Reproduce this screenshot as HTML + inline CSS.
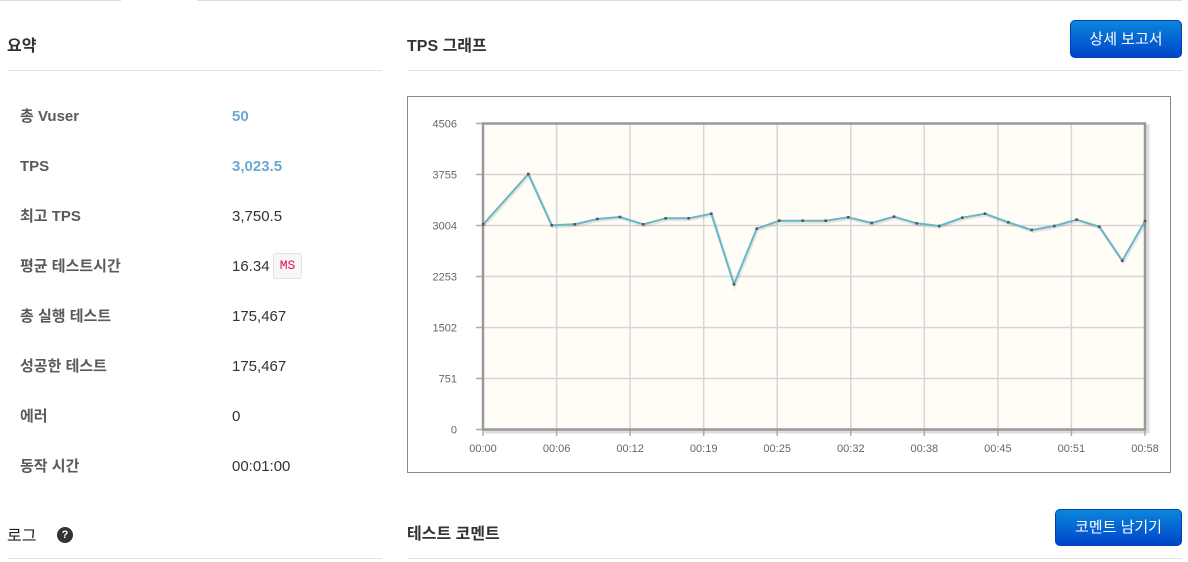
<!DOCTYPE html>
<html><head><meta charset="utf-8">
<style>
*{margin:0;padding:0;box-sizing:border-box}
html,body{width:1188px;height:562px;overflow:hidden;background:#fff;font-family:"Liberation Sans","Noto Sans CJK KR",sans-serif;}
.a{position:absolute;white-space:nowrap}
.h{font-size:16px;font-weight:bold;color:#333;line-height:20px}
.rule{position:absolute;height:1px;background:#e3e3e3}
.lbl{position:absolute;left:20px;font-size:15px;font-weight:bold;color:#5a5a5a;line-height:20px}
.val{position:absolute;left:232px;font-size:15px;color:#333;line-height:20px}
.blue{color:#6aaad2;font-weight:bold}
.btn{position:absolute;border-radius:5px;background:linear-gradient(#0a86dc,#0045c9);border:1px solid #0040b0;color:#fff;font-size:15px;text-align:center;}
.ms{position:absolute;left:273px;top:253px;width:29px;height:26px;border:1px solid #e1e1e8;background:#f7f7f9;border-radius:3px;color:#dd1144;font-family:"Liberation Mono",monospace;font-size:13px;line-height:24px;text-align:center}
</style></head><body>
<div class="rule" style="left:0;top:0;width:121px;background:#ddd"></div>
<div class="rule" style="left:197px;top:0;width:985px;background:#ddd"></div>

<div class="a h" style="left:7px;top:37px">요약</div>
<div class="rule" style="left:7px;top:70px;width:375px"></div>
<div class="a h" style="left:407px;top:37px">TPS 그래프</div>
<div class="rule" style="left:407px;top:70px;width:775px"></div>
<div class="btn" style="left:1070px;top:20px;width:112px;height:38px;line-height:37px">상세 보고서</div>

<div class="lbl" style="top:107px">총 Vuser</div><div class="val blue" style="top:107px">50</div>
<div class="lbl" style="top:157px">TPS</div><div class="val blue" style="top:157px">3,023.5</div>
<div class="lbl" style="top:207px">최고 TPS</div><div class="val" style="top:207px">3,750.5</div>
<div class="lbl" style="top:257px">평균 테스트시간</div><div class="val" style="top:257px">16.34</div><div class="ms">MS</div>
<div class="lbl" style="top:307px">총 실행 테스트</div><div class="val" style="top:307px">175,467</div>
<div class="lbl" style="top:357px">성공한 테스트</div><div class="val" style="top:357px">175,467</div>
<div class="lbl" style="top:407px">에러</div><div class="val" style="top:407px">0</div>
<div class="lbl" style="top:457px">동작 시간</div><div class="val" style="top:457px">00:01:00</div>

<div class="a h" style="left:7px;top:527px;font-weight:normal;color:#222">로그</div>
<div class="a" style="left:57px;top:527px;width:16px;height:16px;border-radius:50%;background:#333;color:#fff;font-size:11px;font-weight:bold;line-height:16px;text-align:center">?</div>
<div class="rule" style="left:7px;top:558px;width:375px"></div>
<div class="a h" style="left:407px;top:525px">테스트 코멘트</div>
<div class="rule" style="left:407px;top:558px;width:775px"></div>
<div class="btn" style="left:1055px;top:509px;width:127px;height:37px;line-height:36px">코멘트 남기기</div>

<svg class="a" style="left:0;top:0" width="1188" height="562" xmlns="http://www.w3.org/2000/svg">
<rect x="407.5" y="96.5" width="763" height="376" fill="#fff" stroke="#8a8a8a" stroke-width="1"/>
<rect x="486" y="126" width="662" height="306" fill="none" stroke="#ddd" stroke-width="3"/>
<rect x="483" y="123.5" width="662" height="306" fill="#fffdf6"/>
<g stroke="#d6d6d6" stroke-width="1.5">
<line x1="483" x2="1145" y1="174.5" y2="174.5"/>
<line x1="483" x2="1145" y1="225.5" y2="225.5"/>
<line x1="483" x2="1145" y1="276.5" y2="276.5"/>
<line x1="483" x2="1145" y1="327.5" y2="327.5"/>
<line x1="483" x2="1145" y1="378.5" y2="378.5"/>
<line y1="123.5" y2="429.5" x1="556.6" x2="556.6"/>
<line y1="123.5" y2="429.5" x1="630.1" x2="630.1"/>
<line y1="123.5" y2="429.5" x1="703.7" x2="703.7"/>
<line y1="123.5" y2="429.5" x1="777.2" x2="777.2"/>
<line y1="123.5" y2="429.5" x1="850.8" x2="850.8"/>
<line y1="123.5" y2="429.5" x1="924.3" x2="924.3"/>
<line y1="123.5" y2="429.5" x1="997.9" x2="997.9"/>
<line y1="123.5" y2="429.5" x1="1071.4" x2="1071.4"/>
</g>
<g stroke="#aaa" stroke-width="1.5">
<line x1="476" x2="483" y1="123.5" y2="123.5"/>
<line x1="476" x2="483" y1="174.5" y2="174.5"/>
<line x1="476" x2="483" y1="225.5" y2="225.5"/>
<line x1="476" x2="483" y1="276.5" y2="276.5"/>
<line x1="476" x2="483" y1="327.5" y2="327.5"/>
<line x1="476" x2="483" y1="378.5" y2="378.5"/>
<line x1="476" x2="483" y1="429.5" y2="429.5"/>
<line y1="429.5" y2="436" x1="483" x2="483"/>
<line y1="429.5" y2="436" x1="556.6" x2="556.6"/>
<line y1="429.5" y2="436" x1="630.1" x2="630.1"/>
<line y1="429.5" y2="436" x1="703.7" x2="703.7"/>
<line y1="429.5" y2="436" x1="777.2" x2="777.2"/>
<line y1="429.5" y2="436" x1="850.8" x2="850.8"/>
<line y1="429.5" y2="436" x1="924.3" x2="924.3"/>
<line y1="429.5" y2="436" x1="997.9" x2="997.9"/>
<line y1="429.5" y2="436" x1="1071.4" x2="1071.4"/>
<line y1="429.5" y2="436" x1="1145" x2="1145"/>
</g>
<rect x="483" y="123.5" width="662" height="306" fill="none" stroke="#999" stroke-width="2.5"/>
<g font-family="Liberation Sans, sans-serif" font-size="11" fill="#666" text-anchor="end">
<text x="457" y="127.5">4506</text>
<text x="457" y="178.5">3755</text>
<text x="457" y="229.5">3004</text>
<text x="457" y="280.5">2253</text>
<text x="457" y="331.5">1502</text>
<text x="457" y="382.5">751</text>
<text x="457" y="433.5">0</text>
</g>
<g font-family="Liberation Sans, sans-serif" font-size="11" fill="#666" text-anchor="middle">
<text x="483" y="452">00:00</text>
<text x="556.6" y="452">00:06</text>
<text x="630.1" y="452">00:12</text>
<text x="703.7" y="452">00:19</text>
<text x="777.2" y="452">00:25</text>
<text x="850.8" y="452">00:32</text>
<text x="924.3" y="452">00:38</text>
<text x="997.9" y="452">00:45</text>
<text x="1071.4" y="452">00:51</text>
<text x="1145" y="452">00:58</text>
</g>
<g>
<polyline fill="none" stroke="rgba(0,0,0,0.09)" stroke-width="3" transform="translate(1,1.5)" points="483.3,224.3 528.3,174 551.7,225.3 574.7,224.3 597.3,219 620,217 643.3,224.3 665.7,218.3 688.7,218.3 711.3,213.7 734,284.3 756.7,228.7 779.3,220.7 802.7,220.7 825.7,220.7 848.3,217.3 871.7,223 894,216.7 916.7,223.3 939.3,226 962.3,217.7 985,213.7 1008.3,222.3 1031.7,230 1054.3,226 1076.7,219.7 1099.3,226.7 1122.3,260.7 1145,221"/>
<polyline fill="none" stroke="#66b8c8" stroke-width="2" stroke-linejoin="round" points="483.3,224.3 528.3,174 551.7,225.3 574.7,224.3 597.3,219 620,217 643.3,224.3 665.7,218.3 688.7,218.3 711.3,213.7 734,284.3 756.7,228.7 779.3,220.7 802.7,220.7 825.7,220.7 848.3,217.3 871.7,223 894,216.7 916.7,223.3 939.3,226 962.3,217.7 985,213.7 1008.3,222.3 1031.7,230 1054.3,226 1076.7,219.7 1099.3,226.7 1122.3,260.7 1145,221"/>
</g>
<g fill="#555">
<rect x="482" y="223" width="2.6" height="2.6"/><rect x="527" y="172.7" width="2.6" height="2.6"/><rect x="550.4" y="224" width="2.6" height="2.6"/><rect x="573.4" y="223" width="2.6" height="2.6"/><rect x="596" y="217.7" width="2.6" height="2.6"/><rect x="618.7" y="215.7" width="2.6" height="2.6"/><rect x="642" y="223" width="2.6" height="2.6"/><rect x="664.4" y="217" width="2.6" height="2.6"/><rect x="687.4" y="217" width="2.6" height="2.6"/><rect x="710" y="212.4" width="2.6" height="2.6"/><rect x="732.7" y="283" width="2.6" height="2.6"/><rect x="755.4" y="227.4" width="2.6" height="2.6"/><rect x="778" y="219.4" width="2.6" height="2.6"/><rect x="801.4" y="219.4" width="2.6" height="2.6"/><rect x="824.4" y="219.4" width="2.6" height="2.6"/><rect x="847" y="216" width="2.6" height="2.6"/><rect x="870.4" y="221.7" width="2.6" height="2.6"/><rect x="892.7" y="215.4" width="2.6" height="2.6"/><rect x="915.4" y="222" width="2.6" height="2.6"/><rect x="938" y="224.7" width="2.6" height="2.6"/><rect x="961" y="216.4" width="2.6" height="2.6"/><rect x="983.7" y="212.4" width="2.6" height="2.6"/><rect x="1007" y="221" width="2.6" height="2.6"/><rect x="1030.4" y="228.7" width="2.6" height="2.6"/><rect x="1053" y="224.7" width="2.6" height="2.6"/><rect x="1075.4" y="218.4" width="2.6" height="2.6"/><rect x="1098" y="225.4" width="2.6" height="2.6"/><rect x="1121" y="259.4" width="2.6" height="2.6"/><rect x="1143.7" y="219.7" width="2.6" height="2.6"/>
</g>
</svg>
</body></html>
